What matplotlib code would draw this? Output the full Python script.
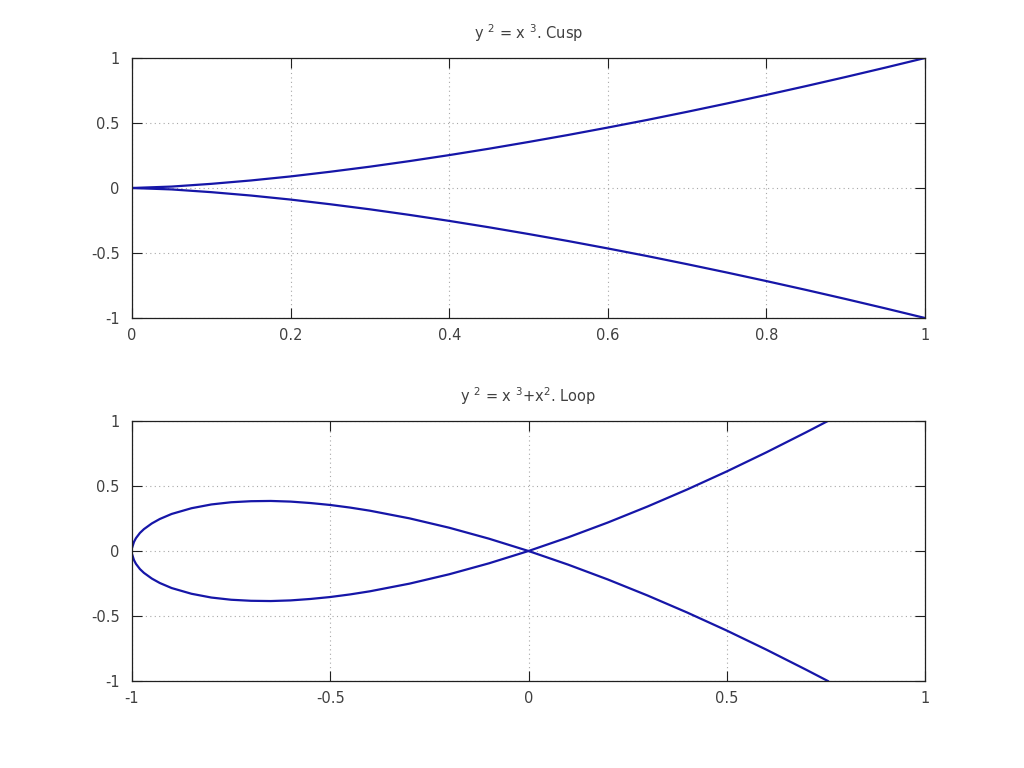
import matplotlib
matplotlib.use("Agg")
import matplotlib.pyplot as plt

# Cusp: y^2 = x^3 (upper branch values; lower is mirror)
cusp_x = [0.0, 0.05, 0.1, 0.15, 0.2, 0.25, 0.3, 0.35, 0.4, 0.45, 0.5,
          0.55, 0.6, 0.65, 0.7, 0.75, 0.8, 0.85, 0.9, 0.95, 1.0]
cusp_y_upper = [0.0, 0.011, 0.032, 0.058, 0.089, 0.125, 0.164, 0.207, 0.253, 0.302, 0.354,
                0.408, 0.465, 0.524, 0.586, 0.650, 0.716, 0.784, 0.854, 0.926, 1.0]
cusp_y_lower = [-v for v in cusp_y_upper]

# Loop: y^2 = x^3 + x^2
loop_x = [-0.999, -0.995, -0.99, -0.98, -0.97, -0.95, -0.93, -0.9, -0.85, -0.8, -0.75,
          -0.7, -0.65, -0.6, -0.55, -0.5, -0.45, -0.4, -0.3,
          -0.2, -0.1, 0.0, 0.1, 0.2, 0.3, 0.4, 0.5, 0.6, 0.7, 0.755]
loop_y_a = [0.032, 0.070, 0.099, 0.139, 0.168, 0.212, 0.246, 0.285, 0.329, 0.358, 0.375,
            0.383, 0.385, 0.380, 0.369, 0.354, 0.334, 0.310, 0.251,
            0.179, 0.095, 0.0, -0.105, -0.219, -0.342, -0.473, -0.612, -0.759, -0.913, -1.0]
loop_y_b = [-v for v in loop_y_a]

cusp_xticks = [0, 0.2, 0.4, 0.6, 0.8, 1]
cusp_xlabels = ["0", "0.2", "0.4", "0.6", "0.8", "1"]
loop_xticks = [-1, -0.5, 0, 0.5, 1]
loop_xlabels = ["-1", "-0.5", "0", "0.5", "1"]
yticks = [-1, -0.5, 0, 0.5, 1]
ylabels = ["-1", "-0.5", "0", "0.5", "1"]

titles = [r"y $^{2}$ = x $^{3}$. Cusp", r"y $^{2}$ = x $^{3}$+x$^{2}$. Loop"]

line_color = "#1616a8"
text_color = "#404040"

fig = plt.figure(figsize=(10.24, 7.68), dpi=100)
W, H = 1024, 768
ax1 = fig.add_axes([132 / W, 1 - 318 / H, (925 - 132) / W, (318 - 58) / H])
ax2 = fig.add_axes([132 / W, 1 - 681 / H, (925 - 132) / W, (681 - 421) / H])

def style(ax, xticks, xlabels, xlim, title):
    ax.set_xlim(*xlim)
    ax.set_ylim(-1, 1)
    ax.set_xticks(xticks)
    ax.set_xticklabels(xlabels)
    ax.set_yticks(yticks)
    ax.set_yticklabels(ylabels)
    ax.tick_params(direction="in", length=7, width=0.8, top=True, right=True,
                   labelsize=10.5, labelcolor=text_color, color="#202020")
    ax.tick_params(axis="y", pad=9)
    ax.tick_params(axis="x", pad=7)
    ax.grid(True, color="#a8a8a8", linestyle=(0, (1, 3)), linewidth=0.8)
    for s in ax.spines.values():
        s.set_color("#202020")
        s.set_linewidth(0.9)
    ax.set_title(title, fontsize=10.5, color=text_color, pad=14)

style(ax1, cusp_xticks, cusp_xlabels, (0, 1), titles[0])
ax1.plot(cusp_x, cusp_y_upper, color=line_color, lw=1.6)
ax1.plot(cusp_x, cusp_y_lower, color=line_color, lw=1.6)

style(ax2, loop_xticks, loop_xlabels, (-1, 1), titles[1])
ax2.plot(loop_x, loop_y_a, color=line_color, lw=1.6)
ax2.plot(loop_x, loop_y_b, color=line_color, lw=1.6)

fig.savefig("out.png", dpi=100)
